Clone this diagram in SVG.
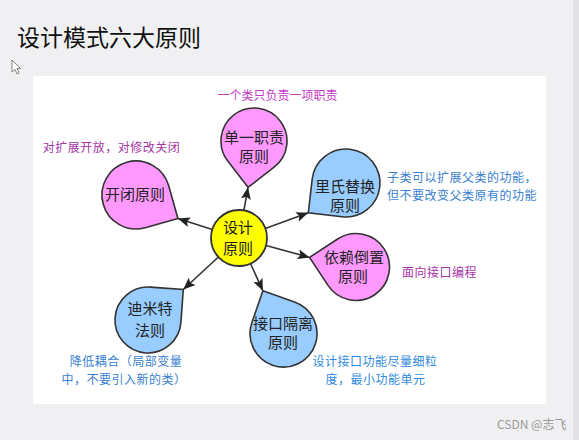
<svg xmlns="http://www.w3.org/2000/svg" width="579" height="440" viewBox="0 0 579 440">
<style>
.t{font-family:"Noto Sans CJK SC","Noto Sans",sans-serif;}
.node{font-family:"Noto Sans CJK SC","Noto Sans",sans-serif;font-size:15px;fill:#222;text-anchor:middle;}
.pink{fill:#ff99ff;stroke:#333;stroke-width:1.6;}
.blue{fill:#99ccff;stroke:#333;stroke-width:1.6;}
.note{font-family:"Noto Sans CJK SC","Noto Sans",sans-serif;font-size:12px;letter-spacing:0.5px;}
.pur{fill:#a534a5;}
.blu{fill:#3a7fd0;}
.conn line{stroke:#333;stroke-width:1.6;marker-end:url(#ah);}
</style>
<defs>
<marker id="ah" markerUnits="userSpaceOnUse" markerWidth="13" markerHeight="10" refX="12" refY="5" orient="auto">
<path d="M0,0 L12,5 L0,10 L2.5,5 z" fill="#222"/>
</marker>
</defs>
<rect x="0" y="0" width="579" height="440" fill="#f0f0f2"/>
<rect x="573" y="0" width="6" height="440" fill="#e2e2e4"/>
<rect x="33" y="76" width="513" height="328" fill="#ffffff"/>
<text class="t" x="17" y="46" font-size="23" fill="#111">设计模式六大原则</text>
<path d="M12,60 L12,72 L15,69.5 L17,74 L19,73 L17,68.5 L20.5,68.5 Z" fill="#fff" stroke="#666" stroke-width="0.8"/>
<g class="conn" id="connectors">
<line x1="243.9" y1="210.4" x2="248" y2="187.3"/>
<line x1="212.3" y1="229.5" x2="177.9" y2="218.5"/>
<line x1="265.3" y1="228.4" x2="308.3" y2="212.8"/>
<line x1="266" y1="245.4" x2="309.6" y2="257.4"/>
<line x1="250.5" y1="263.5" x2="262.9" y2="290.8"/>
<line x1="218.4" y1="257" x2="183.3" y2="289.5"/>
</g>
<g id="center">
<circle cx="239" cy="238" r="28" fill="#ffff00" stroke="#333" stroke-width="1.8"/>
<text class="node" x="238" y="233" font-size="16">设计</text>
<text class="node" x="238" y="254" font-size="16">原则</text>
</g>
<g id="srp">
<path class="pink" d="M248,187.3 L227.8,161.1 A33,33 0 1 1 274.1,167.2 Z"/>
<text class="node" x="254" y="143">单一职责</text>
<text class="node" x="254" y="162">原则</text>
</g>
<g id="ocp">
<path class="pink" d="M177.9,218.5 L145.2,227.7 A34,34 0 1 1 168.7,185.8 Z"/>
<text class="node" x="135" y="200">开闭原则</text>
</g>
<g id="lsp">
<path class="blue" d="M308.3,212.8 L312.2,179 A34,34 0 1 1 342,216.8 Z"/>
<text class="node" x="345" y="192">里氏替换</text>
<text class="node" x="345" y="211">原则</text>
</g>
<g id="dip">
<path class="pink" d="M309.6,257.4 L337.6,239 A33.5,33.5 0 1 1 328,285.4 Z"/>
<text class="node" x="354" y="263">依赖倒置</text>
<text class="node" x="353" y="282">原则</text>
</g>
<g id="isp">
<path class="blue" d="M262.9,290.8 L294.5,301.9 A33.5,33.5 0 1 1 251.9,322.5 Z"/>
<text class="node" x="283" y="329">接口隔离</text>
<text class="node" x="283" y="348">原则</text>
</g>
<g id="lod">
<path class="blue" d="M183.3,289.5 L180.9,322.4 A33,33 0 1 1 150.4,287.1 Z"/>
<text class="node" x="150" y="314" font-size="18">迪米特</text>
<text class="node" x="150" y="336" font-size="18">法则</text>
</g>
<g id="notes">
<text class="note" x="277.5" y="100" fill="#c43cc4" text-anchor="middle" style="letter-spacing:0">一个类只负责一项职责</text>
<text class="note pur" x="111.5" y="152" text-anchor="middle">对扩展开放，对修改关闭</text>
<text class="note blu" x="387" y="182">子类可以扩展父类的功能，</text>
<text class="note blu" x="387" y="200">但不要改变父类原有的功能</text>
<text class="note pur" x="402" y="277">面向接口编程</text>
<text class="note blu" x="126" y="366" text-anchor="middle">降低耦合（局部变量</text>
<text class="note blu" x="124" y="384" text-anchor="middle">中，不要引入新的类）</text>
<text class="note" x="375" y="366" fill="#2f8ae0" text-anchor="middle">设计接口功能尽量细粒</text>
<text class="note" x="375.5" y="384" fill="#2f8ae0" text-anchor="middle">度，最小功能单元</text>
</g>
<text class="t" x="497" y="429" font-size="12" fill="#999">CSDN @志飞</text>
</svg>
